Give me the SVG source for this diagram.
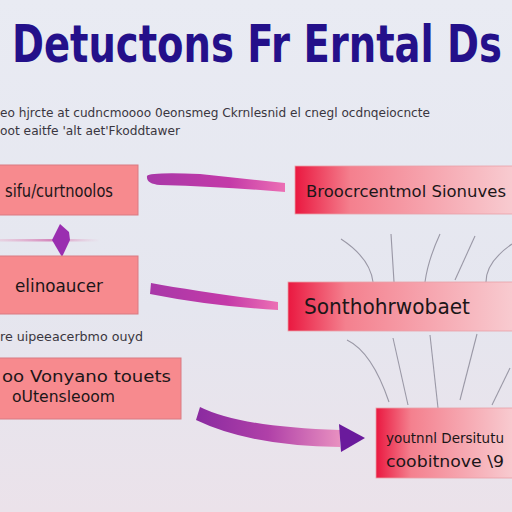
<svg xmlns="http://www.w3.org/2000/svg" width="512" height="512" viewBox="0 0 512 512">
<defs>
<linearGradient id="bg" x1="0" y1="0" x2="0" y2="1">
<stop offset="0" stop-color="#e9ebf3"/>
<stop offset="0.6" stop-color="#e5e6ef"/>
<stop offset="1" stop-color="#ebe2ea"/>
</linearGradient>
<linearGradient id="rg" x1="0" y1="0" x2="1" y2="0">
<stop offset="0" stop-color="#ea1840"/>
<stop offset="0.25" stop-color="#f4808e"/>
<stop offset="1" stop-color="#f8cdd2"/>
</linearGradient>
<linearGradient id="band" x1="0" y1="0" x2="1" y2="0">
<stop offset="0" stop-color="#a838a8"/>
<stop offset="0.6" stop-color="#c43aa8"/>
<stop offset="1" stop-color="#ec6fb4"/>
</linearGradient>
<linearGradient id="band3" x1="0" y1="0" x2="1" y2="0">
<stop offset="0" stop-color="#8a2aa0"/>
<stop offset="0.5" stop-color="#b040a8"/>
<stop offset="1" stop-color="#e890c0"/>
</linearGradient>
<linearGradient id="hl" x1="0" y1="0" x2="1" y2="0">
<stop offset="0" stop-color="#e8a0c0" stop-opacity="0.3"/>
<stop offset="0.5" stop-color="#d070b0" stop-opacity="0.8"/>
<stop offset="1" stop-color="#e8a0c0" stop-opacity="0"/>
</linearGradient>
</defs>
<style>
.lbox{fill:#f78a8e;stroke:#d97a82;stroke-width:1}
.rbox{fill:url(#rg);stroke:#e8a0a8;stroke-width:0.8}
.t{font-family:"DejaVu Sans","Liberation Sans",sans-serif;fill:#1c1618}
.sub{font-family:"DejaVu Sans","Liberation Sans",sans-serif;fill:#3a3640;font-size:12px}
.ray{fill:none;stroke:#9a98a6;stroke-width:1.1}
</style>
<rect width="512" height="512" fill="url(#bg)"/>
<text transform="translate(12,62) scale(1,1.34)" x="0" y="0" font-family="DejaVu Sans, Liberation Sans, sans-serif" font-weight="bold" font-size="38" fill="#24108a" textLength="490" lengthAdjust="spacingAndGlyphs">Detuctons Fr Erntal Ds</text>
<text class="sub" x="0" y="117" textLength="430" lengthAdjust="spacingAndGlyphs">eo hjrcte at cudncmoooo 0eonsmeg Ckrnlesnid el cnegl ocdnqeiocncte</text>
<text class="sub" x="0" y="135" textLength="180" lengthAdjust="spacingAndGlyphs">oot eaitfe 'alt aet'Fkoddtawer</text>
<text class="sub" x="0" y="341" textLength="143" lengthAdjust="spacingAndGlyphs">re uipeeacerbmo ouyd</text>
<g id="rays">
<path class="ray" d="M341,239 Q370,258 373,282"/>
<path class="ray" d="M391,234 L394,282"/>
<path class="ray" d="M440,234 Q428,260 425,282"/>
<path class="ray" d="M475,236 L455,280"/>
<path class="ray" d="M512,244 Q486,262 486,282"/>
<path class="ray" d="M347,340 Q372,352 389,402"/>
<path class="ray" d="M393,338 L408,405"/>
<path class="ray" d="M430,335 L438,408"/>
<path class="ray" d="M477,334 L460,400"/>
<path class="ray" d="M510,368 L492,405"/>
</g>
<g id="connectors">
<path d="M147,176 Q150,172 200,174 L285,183 L285,192 Q230,187 160,185 Q146,184 147,176 Z" fill="url(#band)"/>
<path d="M151,283 Q200,292 278,302 L278,310 Q210,306 150,294 Z" fill="url(#band)"/>
<path d="M200,407 Q240,427 340,430 L340,447 Q250,446 196,420 Z" fill="url(#band3)"/>
<polygon points="339,424 365,438 341,452" fill="#6a1a9c"/>
<rect x="0" y="239" width="100" height="2.5" fill="url(#hl)"/>
<polygon points="60,224 69,232 70,240 62,257 52,240" fill="#9a2eb0"/>
</g>
<g id="node1">
<rect class="lbox" x="-2" y="165" width="140" height="50"/>
<text class="t" x="5" y="197" font-size="17" textLength="108" lengthAdjust="spacingAndGlyphs">sifu/curtnoolos</text>
</g>
<g id="node2">
<rect class="rbox" x="295" y="166" width="222" height="48"/>
<text class="t" x="306" y="197" font-size="16.5" textLength="200" lengthAdjust="spacingAndGlyphs">Broocrcentmol Sionuves</text>
</g>
<g id="node3">
<rect class="lbox" x="-2" y="256" width="140" height="58"/>
<text class="t" x="15" y="292" font-size="17" textLength="88" lengthAdjust="spacingAndGlyphs">elinoaucer</text>
</g>
<g id="node4">
<rect class="rbox" x="288" y="282" width="230" height="49"/>
<text class="t" x="304" y="314" font-size="21" textLength="166" lengthAdjust="spacingAndGlyphs">Sonthohrwobaet</text>
</g>
<g id="node5">
<rect class="lbox" x="-2" y="358" width="183" height="61"/>
<text class="t" x="2" y="382" font-size="16" textLength="169" lengthAdjust="spacingAndGlyphs">oo Vonyano touets</text>
<text class="t" x="12" y="402" font-size="16" textLength="103" lengthAdjust="spacingAndGlyphs">oUtensleoom</text>
</g>
<g id="node6">
<rect class="rbox" x="376" y="408" width="140" height="70"/>
<text class="t" x="386" y="443" font-size="13.5" textLength="118" lengthAdjust="spacingAndGlyphs">youtnnl Dersitutu</text>
<text class="t" x="386" y="467" font-size="16" textLength="118" lengthAdjust="spacingAndGlyphs">coobitnove \9</text>
</g>
</svg>
